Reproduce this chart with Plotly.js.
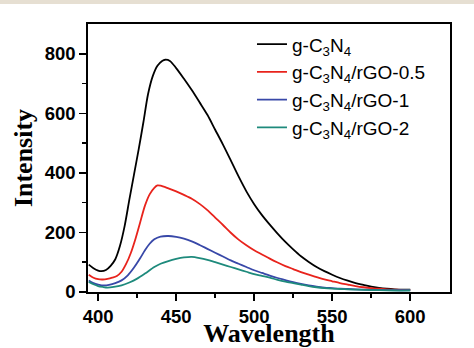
<!DOCTYPE html>
<html>
<head>
<meta charset="utf-8">
<script src="https://cdn.plot.ly/plotly-3.0.1.min.js"></script>
<style>html,body{margin:0;padding:0;background:#fff;}#chart{width:474px;height:348px;}</style>
</head>
<body>
<div id="chart"></div>
<script>
// Series names
const seriesNames = ["g-C<sub>3</sub>N<sub>4</sub>", "g-C<sub>3</sub>N<sub>4</sub>/rGO-0.5", "g-C<sub>3</sub>N<sub>4</sub>/rGO-1", "g-C<sub>3</sub>N<sub>4</sub>/rGO-2"];

// g-C3N4
const wlBlack = [394,397,400,402,405,408,411,414,417,420,423,426,429,432,435,438,441,443,446,450,455,460,465,470,475,480,485,490,495,500,505,510,515,520,525,530,535,540,545,550,555,560,565,570,575,580,585,590,595,600];
const intBlack = [92,80,72,70,74,88,110,155,222,310,395,480,570,665,725,760,776,780,776,752,716,678,637,595,545,495,442,388,338,295,258,226,196,168,143,120,101,84,70,58,47,38,30,24,18,14,11,9,8,8];

// g-C3N4/rGO-0.5
const wlRed = [394,397,400,403,406,409,412,415,418,421,424,427,430,433,436,438,440,445,450,455,460,465,470,475,480,485,490,495,500,505,510,515,520,525,530,535,540,545,550,555,560,565,570,575,580,585,590,595,600];
const intRed = [58,48,43,42,44,48,54,68,95,132,180,235,290,328,350,358,357,348,338,326,313,296,275,250,225,199,176,157,140,126,112,99,87,77,67,58,50,42,36,30,25,20,16,13,11,9,8,7,7];

// g-C3N4/rGO-1
const wlBlue = [394,397,400,404,407,411,415,419,423,427,430,433,436,440,445,450,455,460,465,470,475,480,485,490,495,500,505,510,515,520,525,530,535,540,545,550,555,560,570,580,590,600];
const intBlue = [39,30,25,22,24,30,39,56,82,114,140,162,177,186,188,185,179,170,158,145,132,119,106,95,84,73,64,55,47,40,33,27,22,18,15,13,11,10,8,7,6,6];

// g-C3N4/rGO-2
const wlTeal = [394,397,400,403,406,410,415,420,425,430,436,440,445,450,455,460,465,470,475,480,485,490,495,500,505,510,515,520,525,530,535,540,545,550,555,560,570,580,590,600];
const intTeal = [34,26,20,17,15,17,22,32,45,62,84,95,104,111,116,118,114,108,100,92,84,76,68,60,54,48,41,35,30,25,20,16,13,11,10,9,7,6,5,5];

const xTickVals = [400,450,500,550,600];
const yTickVals = [0,200,400,600,800];

const colors = ["#000000", "#e8231c", "#3848a8", "#1e8a7c"];
const xs = [wlBlack, wlRed, wlBlue, wlTeal];
const ys = [intBlack, intRed, intBlue, intTeal];

const traces = xs.map((x, i) => ({
  x: x, y: ys[i], type: "scatter", mode: "lines", name: seriesNames[i],
  line: {color: colors[i], width: 1.8, shape: "spline", smoothing: 0.8}
}));

const tickFont = {family: "Liberation Sans, Arial, sans-serif", size: 18.5, color: "#000", weight: "bold"};
const titleFont = {family: "Liberation Serif, Times New Roman, serif", size: 26, color: "#000", weight: "bold"};

const layout = {
  width: 474, height: 348,
  paper_bgcolor: "#ffffff", plot_bgcolor: "#ffffff",
  margin: {l: 88, r: 24, t: 24, b: 56},
  showlegend: true,
  legend: {
    x: 0.453, y: 0.995, xanchor: "left", yanchor: "top",
    bgcolor: "rgba(0,0,0,0)", borderwidth: 0,
    font: {family: "Liberation Sans, Arial, sans-serif", size: 19, color: "#000"},
    tracegroupgap: 0
  },
  xaxis: {
    range: [393.5, 625.5], tickvals: xTickVals, ticktext: xTickVals.map(String),
    ticks: "outside", ticklen: 7, tickwidth: 1.5, tickcolor: "#000",
    showline: true, linecolor: "#000", linewidth: 1.8, mirror: true,
    showgrid: false, zeroline: false, tickfont: tickFont,
    minor: {tickvals: [425,475,525,575], ticks: "outside", ticklen: 4, tickwidth: 1.5, tickcolor: "#000", showgrid: false},
    title: {text: "Wavelength", font: titleFont, standoff: 8}
  },
  yaxis: {
    range: [0, 900], tickvals: yTickVals, ticktext: yTickVals.map(String),
    ticks: "outside", ticklen: 7, tickwidth: 1.5, tickcolor: "#000",
    showline: true, linecolor: "#000", linewidth: 1.8, mirror: true,
    showgrid: false, zeroline: false, tickfont: tickFont,
    minor: {tickvals: [100,300,500,700], ticks: "outside", ticklen: 4, tickwidth: 1.5, tickcolor: "#000", showgrid: false},
    title: {text: "Intensity", font: titleFont, standoff: 4}
  },
  shapes: [{
    type: "rect", xref: "paper", yref: "paper",
    x0: -0.3, x1: 1.1, y0: 1.075, y1: 1.095,
    fillcolor: "#e6dfd2", line: {width: 0}, layer: "below"
  }]
};

Plotly.newPlot("chart", traces, layout, {staticPlot: true, displayModeBar: false});
</script>
</body>
</html>
